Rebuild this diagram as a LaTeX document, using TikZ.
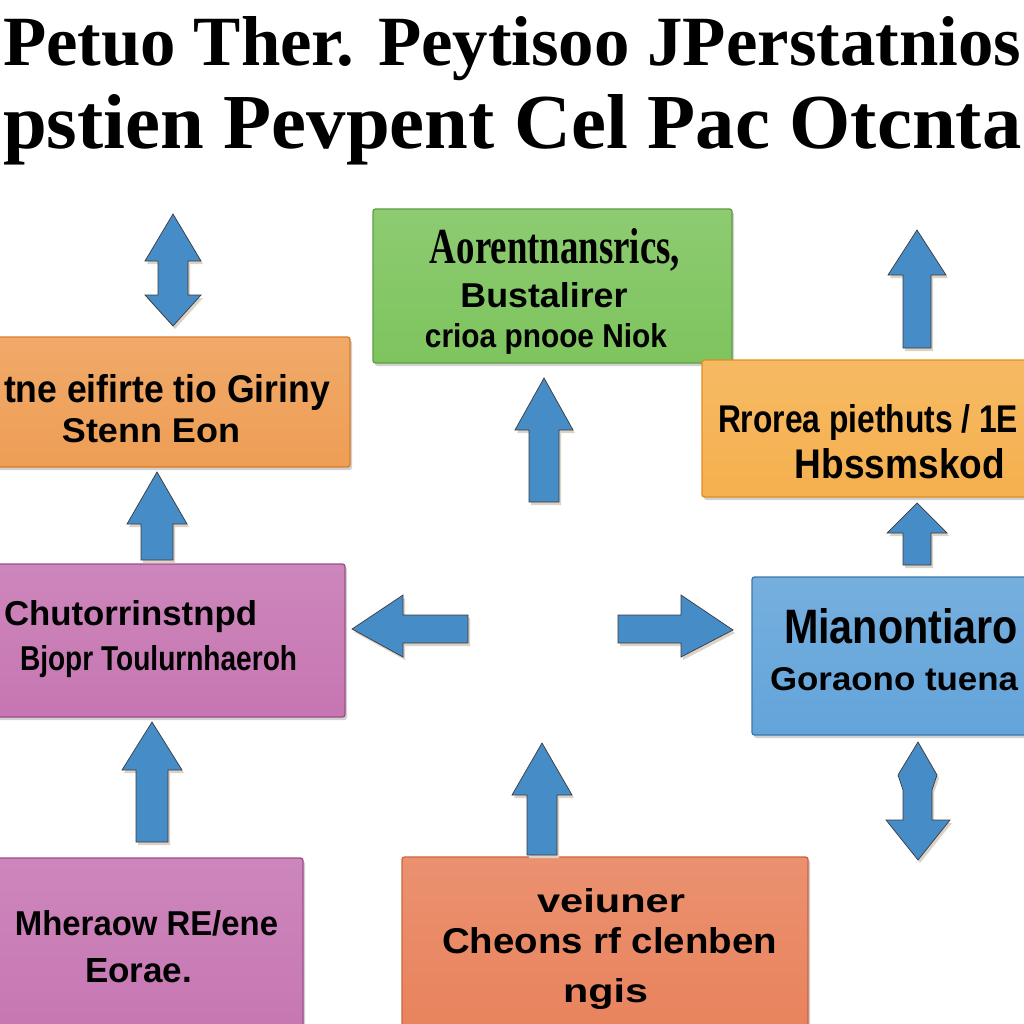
\documentclass[tikz,border=0pt]{standalone}
\usepackage{fontspec}
\setmainfont{Liberation Serif}
\setsansfont{Liberation Sans}
\usetikzlibrary{shadows}
\definecolor{grnF}{HTML}{7EC45E}
\definecolor{grnD}{HTML}{5E9E44}
\definecolor{orgF}{HTML}{EE9E55}
\definecolor{orgD}{HTML}{DB7C2A}
\definecolor{ambF}{HTML}{F5B04E}
\definecolor{ambD}{HTML}{DE8E22}
\definecolor{pnkF}{HTML}{C676B2}
\definecolor{pnkD}{HTML}{9E4E88}
\definecolor{bluF}{HTML}{63A4DA}
\definecolor{bluD}{HTML}{3C78AE}
\definecolor{redF}{HTML}{E8825C}
\definecolor{redD}{HTML}{CC6440}
\definecolor{arrF}{HTML}{468CC6}
\definecolor{arrD}{HTML}{3C3A3E}
\definecolor{shd}{HTML}{DDD2C6}
\newcommand\fitt[3]{\resizebox{#1pt}{#2pt}{#3}}
% cx, tip y, head length, half head, half shaft, bottom y
\newcommand\uparr[6]{%
  \path[arrowshadow] (#1,#2) -- ({#1+#4},{#2+#3}) -- ({#1+#5},{#2+#3}) -- ({#1+#5},#6) -- ({#1-#5},#6) -- ({#1-#5},{#2+#3}) -- ({#1-#4},{#2+#3}) -- cycle;
  \path[blockarrow] (#1,#2) -- ({#1+#4},{#2+#3}) -- ({#1+#5},{#2+#3}) -- ({#1+#5},#6) -- ({#1-#5},#6) -- ({#1-#5},{#2+#3}) -- ({#1-#4},{#2+#3}) -- cycle;}
\tikzset{
  panel/.style 2 args={rectangle, top color=#1!88!white, bottom color=#1, draw=#2,
    line width=1.3pt, rounded corners=2.5pt, inner sep=0pt,
    drop shadow={shadow xshift=2pt, shadow yshift=-3pt, fill=black, opacity=0.18}},
  txt/.style={inner sep=0pt, outer sep=0pt, text=black},
  blockarrow/.style={fill=arrF, draw=arrD, line width=0.7pt, line join=miter},
  arrowshadow/.style={fill=shd, shift={(2,3)}},
}
\begin{document}
\begin{tikzpicture}[x=1pt,y=-1pt]
\clip (0,0) rectangle (1024,1024);
\fill[white] (0,0) rectangle (1024,1024);

% title
\node[txt, anchor=base west] (t1) at (3,66) {\fitt{1018}{49}{\bfseries Petuo Ther. Peytisoo JPerstatnios}};
\node[txt, anchor=base west] (t2) at (3,149) {\fitt{1018}{54}{\bfseries pstien Pevpent Cel Pac Otcnta}};

% boxes
\node[panel={grnF}{grnD}, minimum width=359pt, minimum height=154pt] (green) at (552.5,286) {};
\node[panel={orgF}{orgD}, minimum width=360pt, minimum height=130pt] (orgL) at (170,402) {};
\node[panel={ambF}{ambD}, minimum width=338pt, minimum height=137pt] (ambR) at (871,428.5) {};
\node[panel={pnkF}{pnkD}, minimum width=355pt, minimum height=153pt] (pnkM) at (167.5,640.5) {};
\node[panel={bluF}{bluD}, minimum width=288pt, minimum height=158pt] (bluR) at (896,656) {};
\node[panel={pnkF}{pnkD}, minimum width=313pt, minimum height=182pt] (pnkB) at (146.5,949) {};
\node[panel={redF}{redD}, minimum width=406pt, minimum height=183pt] (redB) at (605,948.5) {};

% box texts
\node[txt, anchor=base] (g1) at (555,263) {\fitt{250}{35}{\bfseries Aorentnansrics,}};
\node[txt, anchor=base] (g2) at (544,307) {\fitt{167}{25}{\sffamily\bfseries Bustalirer}};
\node[txt, anchor=base] (g3) at (546,347) {\fitt{242}{24}{\sffamily\bfseries crioa pnooe Niok}};

\node[txt, anchor=base west] (o1) at (4,402) {\fitt{326}{28}{\sffamily\bfseries tne eifirte tio Giriny}};
\node[txt, anchor=base] (o2) at (151,442) {\fitt{178}{24}{\sffamily\bfseries Stenn Eon}};

\node[txt, anchor=base west] (r1) at (718,432) {\fitt{300}{28}{\sffamily\bfseries Rrorea piethuts / 1E}};
\node[txt, anchor=base] (r2) at (900,478) {\fitt{210}{30}{\sffamily\bfseries Hbssmskod}};

\node[txt, anchor=base west] (p1) at (4,625) {\fitt{253}{25}{\sffamily\bfseries Chutorrinstnpd}};
\node[txt, anchor=base west] (p2) at (20,670) {\fitt{277}{25}{\sffamily\bfseries Bjopr Toulurnhaeroh}};

\node[txt, anchor=base west] (b1) at (784,643) {\fitt{234}{35}{\sffamily\bfseries Mianontiaro}};
\node[txt, anchor=base west] (b2) at (770,690) {\fitt{248}{23}{\sffamily\bfseries Goraono tuena}};

\node[txt, anchor=base west] (q1) at (15,935) {\fitt{263}{25}{\sffamily\bfseries Mheraow RE/ene}};
\node[txt, anchor=base west] (q2) at (85,982) {\fitt{107}{24}{\sffamily\bfseries Eorae.}};

\node[txt, anchor=base west] (s1) at (537,912) {\fitt{148}{24}{\sffamily\bfseries veiuner}};
\node[txt, anchor=base west] (s2) at (442,953) {\fitt{335}{26}{\sffamily\bfseries Cheons rf clenben}};
\node[txt, anchor=base west] (s3) at (563,1002) {\fitt{85}{24}{\sffamily\bfseries ngis}};

% up arrows
\uparr{157}{472}{52}{30}{16}{560}
\uparr{152}{722}{48}{30}{16}{842}
\uparr{544}{378}{52}{29}{15}{502}
\uparr{542}{743}{52}{30}{15}{855}
\uparr{917}{230}{45}{29}{14}{348}
\uparr{917}{503}{30}{30}{14}{565}

% double arrow top-left
\path[arrowshadow] (173,214) -- (201,261) -- (188,261) -- (188,295) -- (201,295) -- (173,326) -- (145,295) -- (158,295) -- (158,261) -- (145,261) -- cycle;
\path[blockarrow] (173,214) -- (201,261) -- (188,261) -- (188,295) -- (201,295) -- (173,326) -- (145,295) -- (158,295) -- (158,261) -- (145,261) -- cycle;

% double arrow bottom-right
\path[arrowshadow] (918,742) -- (937,775) -- (932,790) -- (932,820) -- (950,820) -- (918,860) -- (886,820) -- (903,820) -- (903,790) -- (898,775) -- cycle;
\path[blockarrow] (918,742) -- (937,775) -- (932,790) -- (932,820) -- (950,820) -- (918,860) -- (886,820) -- (903,820) -- (903,790) -- (898,775) -- cycle;

% left arrow
\path[arrowshadow] (352,629) -- (403,595) -- (403,615) -- (468,615) -- (468,643) -- (403,643) -- (403,657) -- cycle;
\path[blockarrow] (352,629) -- (403,595) -- (403,615) -- (468,615) -- (468,643) -- (403,643) -- (403,657) -- cycle;

% right arrow
\path[arrowshadow] (733,630) -- (681,595) -- (681,615) -- (618,615) -- (618,643) -- (681,643) -- (681,657) -- cycle;
\path[blockarrow] (733,630) -- (681,595) -- (681,615) -- (618,615) -- (618,643) -- (681,643) -- (681,657) -- cycle;
\end{tikzpicture}
\end{document}
